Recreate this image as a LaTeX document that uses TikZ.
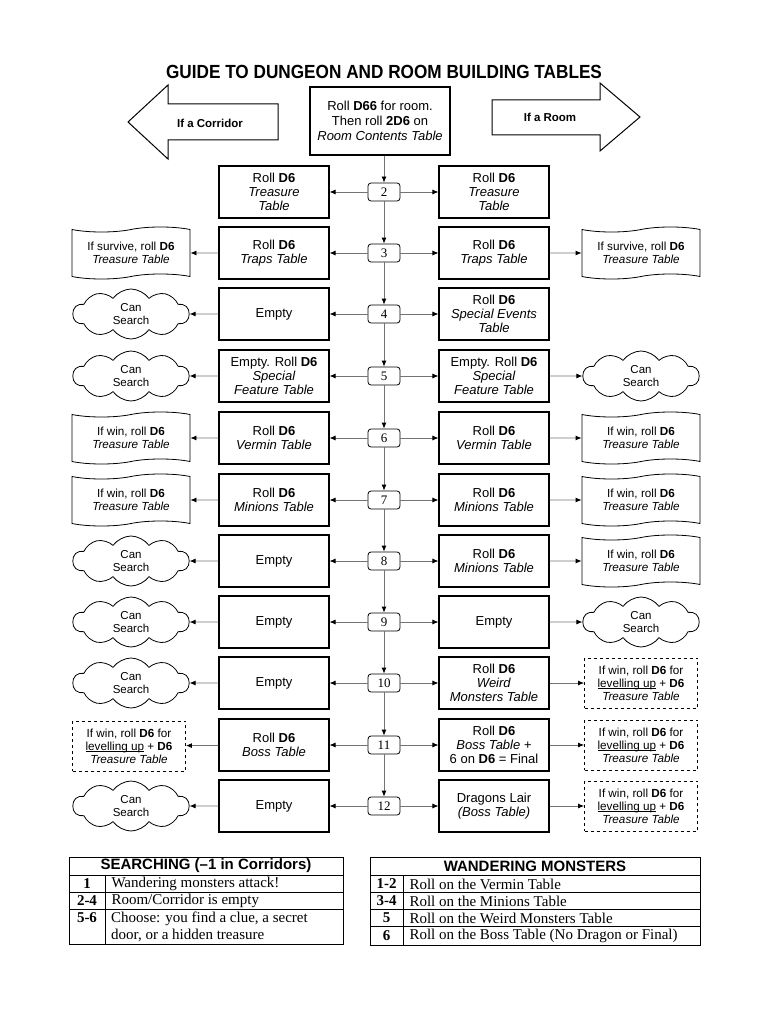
\documentclass[tikz,border=0pt]{standalone}
\usepackage{fontspec}
\setmainfont{Liberation Sans}
\newfontfamily\timesfont{Liberation Serif}
\usetikzlibrary{arrows.meta,shapes.symbols,shapes.misc}
\newcommand\lvlup{\underline{\smash{levelling up}}}

\begin{document}
\begin{tikzpicture}[x=1pt,y=-1pt,
	cell/.style = {draw, line width=1.1pt, minimum width=110pt, minimum height=52pt,
		align=center, inner sep=1pt, font=\fontsize{13}{14.2}\selectfont},
	num/.style = {draw, line width=0.8pt, rounded corners=3pt, minimum width=32pt,
		minimum height=18pt, inner sep=0pt, fill=white, font=\timesfont\fontsize{13}{13}\selectfont},
	scroll/.style = {tape, draw, line width=0.8pt, minimum width=118pt, minimum height=52pt,
		align=center, inner sep=0pt, font=\fontsize{11.7}{13}\selectfont},
	puff/.style = {cloud, draw, line width=0.8pt, cloud puffs=10, cloud puff arc=110, aspect=2.3,
		minimum width=116pt, minimum height=50pt, inner sep=0pt, align=center,
		font=\fontsize{11.5}{13}\selectfont},
	dbox/.style = {draw, dashed, line width=0.9pt, minimum width=113pt, minimum height=50pt,
		align=center, inner sep=0pt, font=\fontsize{11.7}{13}\selectfont},
	link/.style = {draw=black!55, line width=0.8pt, -{Latex[length=6pt,width=5pt,color=black]}},
	thead/.style = {font=\bfseries\fontsize{15}{16}\selectfont},
	tcell/.style = {font=\timesfont\fontsize{15}{17}\selectfont},
	tnum/.style = {font=\timesfont\bfseries\fontsize{15}{17}\selectfont},
	]

	\useasboundingbox (0,0) rectangle (768,1024);

	\def\lx{274}
	\def\rx{494}
	\def\olx{131}
	\def\orx{641}

	% title and the two big arrows
	\node[font=\bfseries\fontsize{19}{19}\selectfont] (title) at (384,72)
		{\scalebox{0.905}[1]{GUIDE TO DUNGEON AND ROOM BUILDING TABLES}};

	\draw[line width=1pt] (128,122) -- (168,85) -- (168,104) -- (278,104) -- (278,140)
		-- (168,140) -- (168,159) -- cycle;
	\node[font=\bfseries\fontsize{11.5}{13}\selectfont] (corridor) at (210,123) {If a Corridor};
	\draw[line width=1pt] (640,117) -- (600,83) -- (600,100) -- (492,100) -- (492,135)
		-- (600,135) -- (600,151) -- cycle;
	\node[font=\bfseries\fontsize{11.5}{13}\selectfont] (room) at (550,117) {If a Room};

	\node[cell, minimum width=140pt, minimum height=68pt, font=\fontsize{13}{15}\selectfont]
		(start) at (380,121) {Roll \textbf{D66} for room.\\Then roll \textbf{2D6} on\\\textit{Room Contents Table}};

	% the 2D6 spine
	\foreach \k/\y in {2/192,3/253,4/314,5/376,6/438,7/500,8/561,9/622,10/683,11/745,12/806}
		\node[num] (n\k) at (384,\y) {\k};

	% corridor side
	\node[cell] (L2) at (\lx,192) {Roll \textbf{D6}\\\textit{Treasure}\\\textit{Table}};
	\node[cell] (L3) at (\lx,253) {Roll \textbf{D6}\\\textit{Traps Table}};
	\node[cell] (L4) at (\lx,314) {Empty};
	\node[cell] (L5) at (\lx,376) {Empty. Roll \textbf{D6}\\\textit{Special}\\\textit{Feature Table}};
	\node[cell] (L6) at (\lx,438) {Roll \textbf{D6}\\\textit{Vermin Table}};
	\node[cell] (L7) at (\lx,500) {Roll \textbf{D6}\\\textit{Minions Table}};
	\node[cell] (L8) at (\lx,561) {Empty};
	\node[cell] (L9) at (\lx,622) {Empty};
	\node[cell] (L10) at (\lx,683) {Empty};
	\node[cell] (L11) at (\lx,745) {Roll \textbf{D6}\\\textit{Boss Table}};
	\node[cell] (L12) at (\lx,806) {Empty};

	% room side
	\node[cell] (R2) at (\rx,192) {Roll \textbf{D6}\\\textit{Treasure}\\\textit{Table}};
	\node[cell] (R3) at (\rx,253) {Roll \textbf{D6}\\\textit{Traps Table}};
	\node[cell] (R4) at (\rx,314) {Roll \textbf{D6}\\\textit{Special Events}\\\textit{Table}};
	\node[cell] (R5) at (\rx,376) {Empty. Roll \textbf{D6}\\\textit{Special}\\\textit{Feature Table}};
	\node[cell] (R6) at (\rx,438) {Roll \textbf{D6}\\\textit{Vermin Table}};
	\node[cell] (R7) at (\rx,500) {Roll \textbf{D6}\\\textit{Minions Table}};
	\node[cell] (R8) at (\rx,561) {Roll \textbf{D6}\\\textit{Minions Table}};
	\node[cell] (R9) at (\rx,622) {Empty};
	\node[cell] (R10) at (\rx,683) {Roll \textbf{D6}\\\textit{Weird}\\\textit{Monsters Table}};
	\node[cell] (R11) at (\rx,745) {Roll \textbf{D6}\\\textit{Boss Table +}\\6 on \textbf{D6} = Final};
	\node[cell] (R12) at (\rx,806) {Dragons Lair\\\textit{(Boss Table)}};

	% outcomes, corridor side
	\node[scroll] (OL3) at (\olx,253) {If survive, roll \textbf{D6}\\\textit{Treasure Table}};
	\node[puff] (OL4) at (\olx,314) {Can\\Search};
	\node[puff] (OL5) at (\olx,376) {Can\\Search};
	\node[scroll] (OL6) at (\olx,438) {If win, roll \textbf{D6}\\\textit{Treasure Table}};
	\node[scroll] (OL7) at (\olx,500) {If win, roll \textbf{D6}\\\textit{Treasure Table}};
	\node[puff] (OL8) at (\olx,561) {Can\\Search};
	\node[puff] (OL9) at (\olx,622) {Can\\Search};
	\node[puff] (OL10) at (\olx,683) {Can\\Search};
	\node[dbox] (OL11) at (129,746) {If win, roll \textbf{D6} for\\\lvlup{} + \textbf{D6}\\\textit{Treasure Table}};
	\node[puff] (OL12) at (\olx,806) {Can\\Search};

	% outcomes, room side
	\node[scroll] (OR3) at (\orx,253) {If survive, roll \textbf{D6}\\\textit{Treasure Table}};
	\node[puff] (OR5) at (\orx,376) {Can\\Search};
	\node[scroll] (OR6) at (\orx,438) {If win, roll \textbf{D6}\\\textit{Treasure Table}};
	\node[scroll] (OR7) at (\orx,500) {If win, roll \textbf{D6}\\\textit{Treasure Table}};
	\node[scroll] (OR8) at (\orx,561) {If win, roll \textbf{D6}\\\textit{Treasure Table}};
	\node[puff] (OR9) at (\orx,622) {Can\\Search};
	\node[dbox] (OR10) at (\orx,683) {If win, roll \textbf{D6} for\\\lvlup{} + \textbf{D6}\\\textit{Treasure Table}};
	\node[dbox] (OR11) at (\orx,745) {If win, roll \textbf{D6} for\\\lvlup{} + \textbf{D6}\\\textit{Treasure Table}};
	\node[dbox] (OR12) at (\orx,806) {If win, roll \textbf{D6} for\\\lvlup{} + \textbf{D6}\\\textit{Treasure Table}};

	% connectors
	\draw[link] (start.south -| n2.north) -- (n2.north);
	\foreach \a/\b in {2/3,3/4,4/5,5/6,6/7,7/8,8/9,9/10,10/11,11/12}
		\draw[link] (n\a.south) -- (n\b.north);
	\foreach \k in {2,...,12} {
		\draw[link] (n\k) -- (L\k);
		\draw[link] (n\k) -- (R\k);
	}
	\foreach \k in {3,...,12}
		\draw[link] (L\k) -- (OL\k);
	\foreach \k in {3,5,6,7,8,9,10,11,12}
		\draw[link] (R\k) -- (OR\k);

	% searching table
	\draw[line width=0.8pt] (69,857) rectangle (343,944);
	\foreach \y in {875,892,909}
		\draw[line width=0.8pt] (69,\y) -- (343,\y);
	\draw[line width=0.8pt] (105,875) -- (105,944);
	\node[thead] (shead) at (206,866) {SEARCHING (--1 in Corridors)};
	\node[tnum] (s1) at (87,884) {1};
	\node[tnum] (s2) at (87,901) {2-4};
	\node[tnum] (s3) at (87,918) {5-6};
	\node[tcell, anchor=west] (t1) at (108,884) {Wandering monsters attack!};
	\node[tcell, anchor=west] (t2) at (108,901) {Room/Corridor is empty};
	\node[tcell, anchor=north west, align=left, inner sep=0pt] (t3) at (111,911.5)
		{Choose: you find a clue, a secret\\door, or a hidden treasure};

	% wandering monsters table
	\draw[line width=0.8pt] (370,857) rectangle (700,945);
	\foreach \y in {875,892,909,926}
		\draw[line width=0.8pt] (370,\y) -- (700,\y);
	\draw[line width=0.8pt] (403,875) -- (403,945);
	\node[thead] (whead) at (535,866) {WANDERING MONSTERS};
	\node[tnum] (w1) at (386.5,884) {1-2};
	\node[tnum] (w2) at (386.5,901) {3-4};
	\node[tnum] (w3) at (386.5,918) {5};
	\node[tnum] (w4) at (386.5,936) {6};
	\node[tcell, anchor=west] (v1) at (406,884) {Roll on the Vermin Table};
	\node[tcell, anchor=west] (v2) at (406,901) {Roll on the Minions Table};
	\node[tcell, anchor=west] (v3) at (406,918) {Roll on the Weird Monsters Table};
	\node[tcell, anchor=west] (v4) at (406,936) {Roll on the Boss Table (No Dragon or Final)};

\end{tikzpicture}
\end{document}
